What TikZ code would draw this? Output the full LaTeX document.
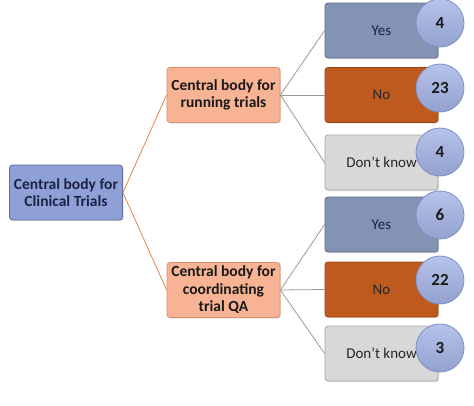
\documentclass[tikz,border=0pt]{standalone}
\usepackage{fontspec}
\setmainfont{Carlito}
\usetikzlibrary{shadows,shapes.geometric}
\definecolor{mainfill}{HTML}{8EA0D6}
\definecolor{mainborder}{HTML}{5F6F9F}
\definecolor{midfill}{HTML}{F7B394}
\definecolor{midborder}{HTML}{DE8E6C}
\definecolor{yesfill}{HTML}{8393B3}
\definecolor{yesborder}{HTML}{5D6B88}
\definecolor{nofill}{HTML}{BF5A1E}
\definecolor{noborder}{HTML}{9C4614}
\definecolor{dkfill}{HTML}{D8D8D8}
\definecolor{dkborder}{HTML}{A6A6A6}
\definecolor{circfill}{HTML}{A3B3E5}
\definecolor{circborder}{HTML}{7D8FC6}
\definecolor{navy}{HTML}{1B2244}
\definecolor{orangeline}{HTML}{E8834A}
\definecolor{greyline}{HTML}{9A9A9A}
\tikzset{
  box/.style={rounded corners=3pt, line width=0.8pt, align=center, inner sep=2pt,
    minimum width=113pt, minimum height=55pt, font=\fontsize{15}{17}\selectfont,
    drop shadow={shadow xshift=1pt, shadow yshift=-1.2pt, opacity=0.25}},
  mainbox/.style={box, fill=mainfill, draw=mainborder, text=navy, font=\bfseries\fontsize{15.5}{17.5}\selectfont},
  midbox/.style={box, fill=midfill, draw=midborder, text=black!90, font=\bfseries\fontsize{15.5}{17.5}\selectfont},
  yesbox/.style={box, fill=yesfill, draw=yesborder, text=navy},
  nobox/.style={box, fill=nofill, draw=noborder, text=black!85},
  dkbox/.style={box, fill=dkfill, draw=dkborder, text=black!85},
  count/.style={ellipse, minimum width=48pt, minimum height=48pt, inner sep=0pt,
    top color=circfill!80!white, bottom color=circfill!90!black, draw=circborder, line width=0.8pt,
    text=black!90, font=\bfseries\fontsize{17}{19}\selectfont},
  oline/.style={draw=orangeline, line width=0.8pt},
  gline/.style={draw=greyline, line width=0.8pt}
}
\begin{document}
\begin{tikzpicture}[x=1pt,y=-1pt]
\useasboundingbox (0,0) rectangle (474,405);
\path[fill=white] (0,0) rectangle (474,405);
% nodes
\node[mainbox] (root) at (66,192.5) {Central body for\\Clinical Trials};
\node[midbox] (run) at (223.5,95) {Central body for\\running trials};
\node[midbox] (qa) at (223.5,290) {Central body for\\coordinating\\trial QA};
\node[yesbox] (y1) at (381.5,30.5) {Yes};
\node[nobox] (n1) at (381.5,95) {No};
\node[dkbox] (d1) at (381.5,162.5) {Don’t know};
\node[yesbox] (y2) at (381.5,224.5) {Yes};
\node[nobox] (n2) at (381.5,289.5) {No};
\node[dkbox] (d2) at (381.5,353.5) {Don’t know};
% counts
\node[count] (c1) at (440,23) {4};
\node[count] (c2) at (440,88) {23};
\node[count] (c3) at (440,152) {4};
\node[count] (c4) at (440,215) {6};
\node[count] (c5) at (440,280) {22};
\node[count] (c6) at (440,348) {3};
% connectors
\draw[oline] (root.east) -- (run.west);
\draw[oline] (root.east) -- (qa.west);
\draw[gline] (run.east) -- (y1.west);
\draw[gline] (run.east) -- (n1.west);
\draw[gline] (run.east) -- (d1.west);
\draw[gline] (qa.east) -- (y2.west);
\draw[gline] (qa.east) -- (n2.west);
\draw[gline] (qa.east) -- (d2.west);
\end{tikzpicture}
\end{document}
